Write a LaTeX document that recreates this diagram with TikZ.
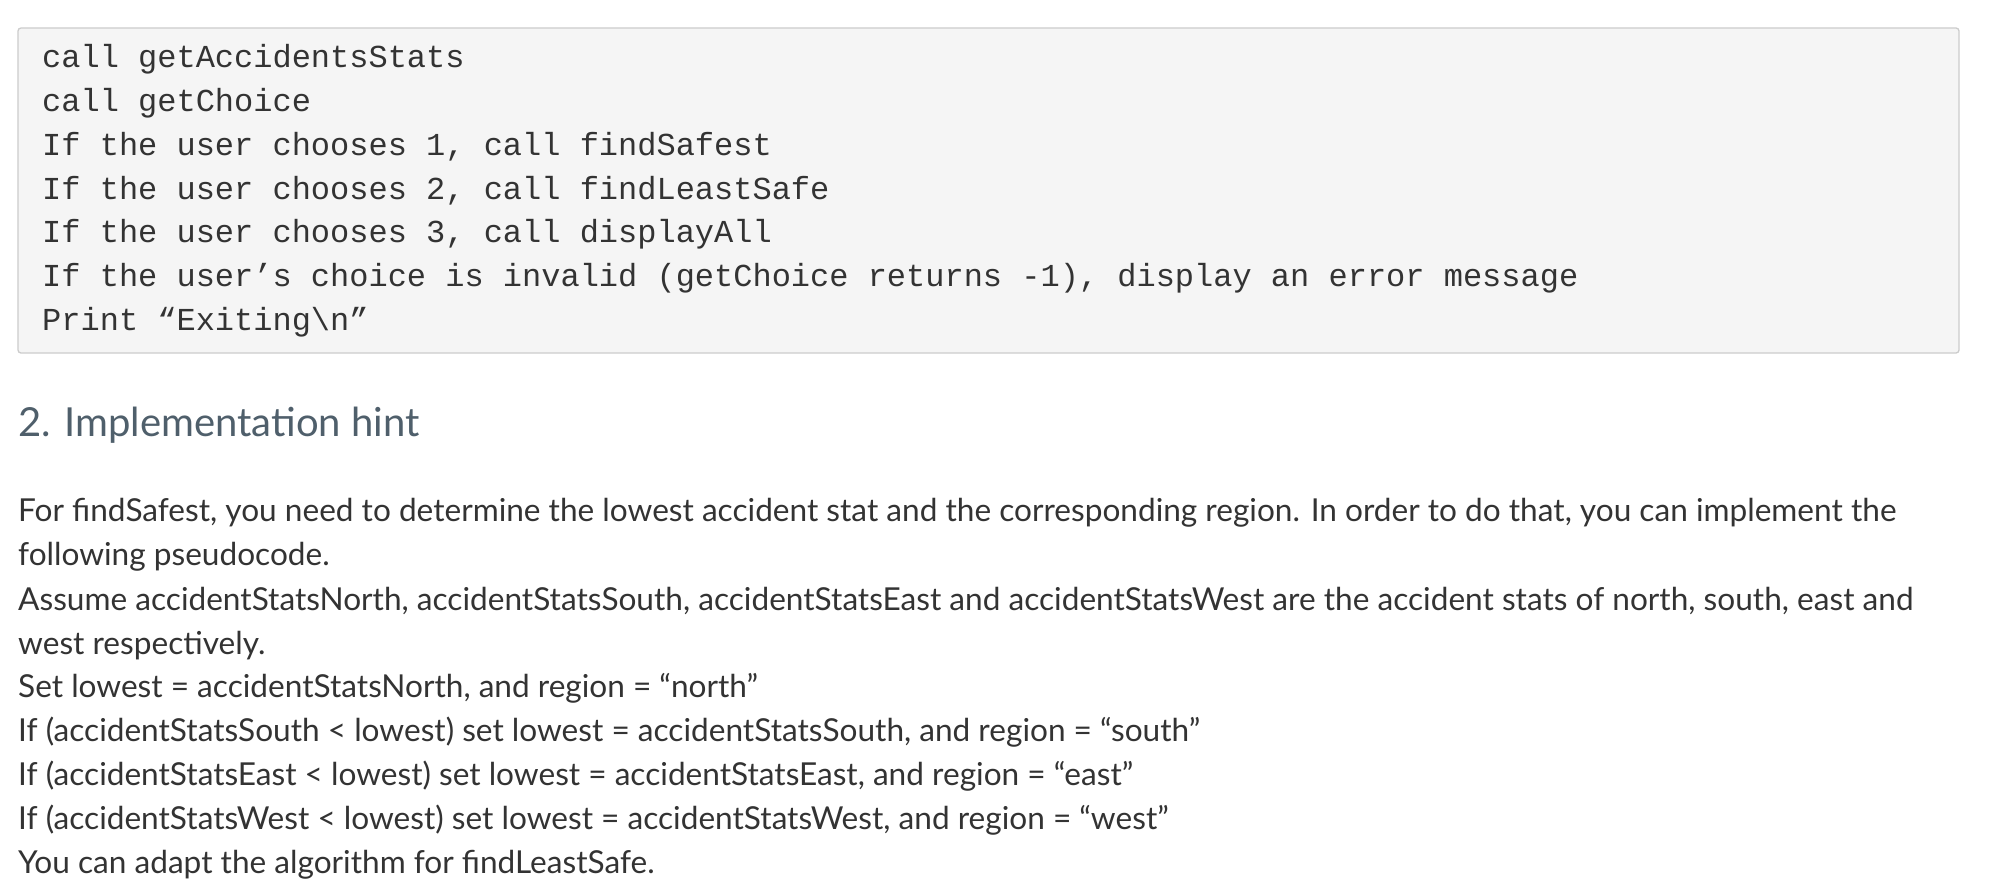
\documentclass[tikz,border=0pt]{standalone}
\usepackage{fontspec}
\setmainfont{Lato}
\setmonofont{Liberation Mono}
\definecolor{codebg}{HTML}{F5F5F5}
\definecolor{codeborder}{HTML}{CCCCCC}
\definecolor{headc}{HTML}{4F5F6B}
\definecolor{bodyc}{HTML}{333333}
\begin{document}
\begin{tikzpicture}[x=1pt,y=-1pt,
  code/.style={anchor=base west,inner sep=0pt,font=\fontsize{32}{40}\selectfont\ttfamily,text=bodyc},
  body/.style={anchor=base west,inner sep=0pt,font=\fontsize{31.6}{40}\selectfont,text=bodyc},
  head/.style={anchor=base west,inner sep=0pt,font=\fontsize{40}{48}\selectfont,text=headc}]
\useasboundingbox (0,0) rectangle (2014,892);
\fill[white] (0,0) rectangle (2014,892);
\draw[codeborder,fill=codebg,line width=1.3pt,rounded corners=3pt] (18,28) rectangle (1959,353);
\node[code] (c1) at (42,67) {call getAccidentsStats};
\node[code] (c2) at (42,111) {call getChoice};
\node[code] (c3) at (42,155) {If the user chooses 1, call findSafest};
\node[code] (c4) at (42,199) {If the user chooses 2, call findLeastSafe};
\node[code] (c5) at (42,242) {If the user chooses 3, call displayAll};
\node[code] (c6) at (42,286) {If the user’s choice is invalid (getChoice returns -1), display an error message};
\node[code] (c7) at (42,330) {Print “Exiting\textbackslash n”};
\node[head] (h) at (18,436) {2. Implementation hint};
\node[body] (b1) at (18,521) {For findSafest, you need to determine the lowest accident stat and the corresponding region. In order to do that, you can implement the};
\node[body] (b2) at (18,565) {following pseudocode.};
\node[body] (b3) at (18,610) {Assume accidentStatsNorth, accidentStatsSouth, accidentStatsEast and accidentStatsWest are the accident stats of north, south, east and};
\node[body] (b4) at (18,654) {west respectively.};
\node[body] (b5) at (18,697) {Set lowest = accidentStatsNorth, and region = “north”};
\node[body] (b6) at (18,741) {If (accidentStatsSouth < lowest) set lowest = accidentStatsSouth, and region = “south”};
\node[body] (b7) at (18,785) {If (accidentStatsEast < lowest) set lowest = accidentStatsEast, and region = “east”};
\node[body] (b8) at (18,829) {If (accidentStatsWest < lowest) set lowest = accidentStatsWest, and region = “west”};
\node[body] (b9) at (18,873) {You can adapt the algorithm for findLeastSafe.};
\end{tikzpicture}
\end{document}
